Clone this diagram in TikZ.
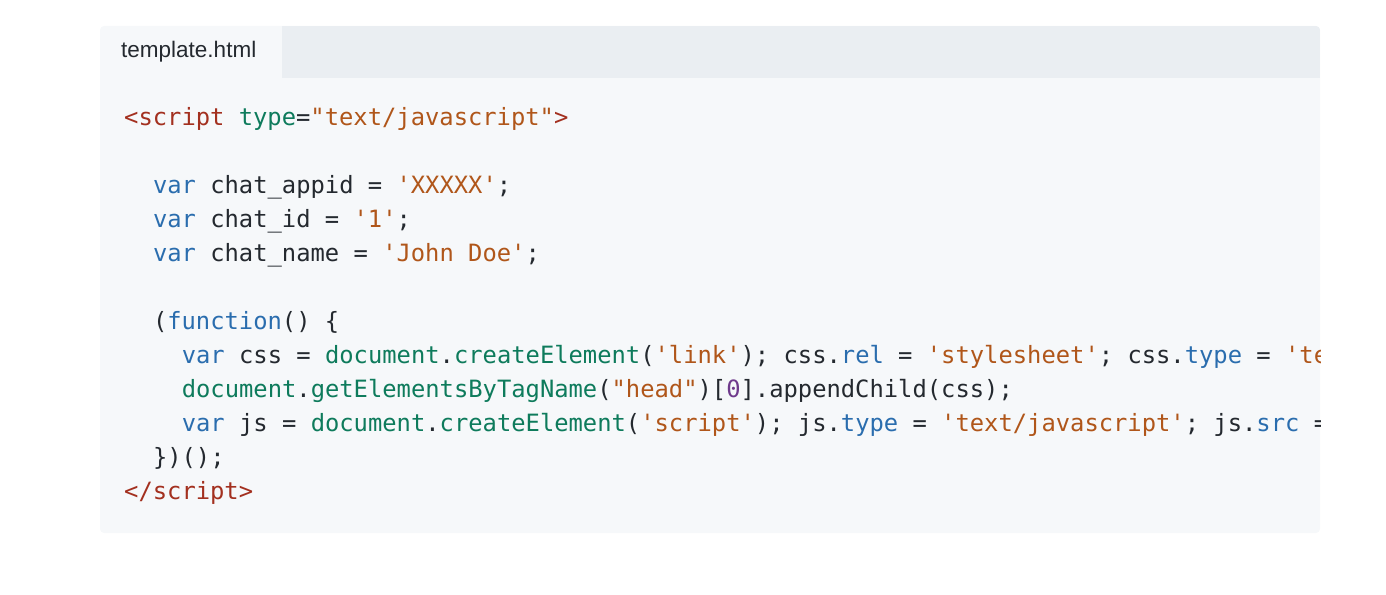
\documentclass[tikz,border=0pt]{standalone}
\usepackage{fontspec}
\setmainfont{Liberation Sans}
\newfontfamily\code{DejaVu Sans Mono}
\definecolor{bgc}{HTML}{F6F8FA}
\definecolor{tabbar}{HTML}{EAEEF2}
\definecolor{ctag}{HTML}{A3301F}
\definecolor{catt}{HTML}{0E7B5C}
\definecolor{cstr}{HTML}{B0561A}
\definecolor{ckw}{HTML}{2A6DAE}
\definecolor{ctx}{HTML}{24292F}
\definecolor{cnum}{HTML}{6F3A8C}
\newcommand{\Tg}[1]{\textcolor{ctag}{#1}}
\newcommand{\At}[1]{\textcolor{catt}{#1}}
\newcommand{\St}[1]{\textcolor{cstr}{#1}}
\newcommand{\Kw}[1]{\textcolor{ckw}{#1}}
\newcommand{\Nm}[1]{\textcolor{cnum}{#1}}
\begin{document}
\begin{tikzpicture}[x=1pt,y=-1pt,
  cl/.style={anchor=base west,inner sep=0pt,font=\code\fontsize{23.8}{28}\selectfont,text=ctx}]
\useasboundingbox (0,0) rectangle (1386,594);
\fill[bgc,rounded corners=4pt] (100,26) rectangle (1320,533);
\begin{scope}
\clip[rounded corners=4pt] (100,26) rectangle (1320,533);
\fill[tabbar] (282,26) rectangle (1320,78);
\node[anchor=west,inner sep=0pt,font=\fontsize{22.5}{26}\selectfont,text=ctx] (tab) at (121,52) {template.html};
\node[cl] (l1) at (124,125) {\Tg{<script} \At{type}=\St{"text/javascript"}\Tg{>}};
\node[cl] (l3) at (152.8,193) {\Kw{var} chat\_appid = \St{'XXXXX'};};
\node[cl] (l4) at (152.8,227) {\Kw{var} chat\_id = \St{'1'};};
\node[cl] (l5) at (152.8,261) {\Kw{var} chat\_name = \St{'John Doe'};};
\node[cl] (l7) at (152.8,329) {(\Kw{function}() \{};
\node[cl] (l8) at (181.6,363) {\Kw{var} css = \At{document}.\At{createElement}(\St{'link'}); css.\Kw{rel} = \St{'stylesheet'}; css.\Kw{type} = \St{'text/css'};};
\node[cl] (l9) at (181.6,397) {\At{document}.\At{getElementsByTagName}(\St{"head"})[\Nm{0}].appendChild(css);};
\node[cl] (l10) at (181.6,431) {\Kw{var} js = \At{document}.\At{createElement}(\St{'script'}); js.\Kw{type} = \St{'text/javascript'}; js.\Kw{src} = \St{'x'};};
\node[cl] (l11) at (152.8,465) {\})();};
\node[cl] (l12) at (124,499) {\Tg{</script>}};
\end{scope}
\end{tikzpicture}
\end{document}
